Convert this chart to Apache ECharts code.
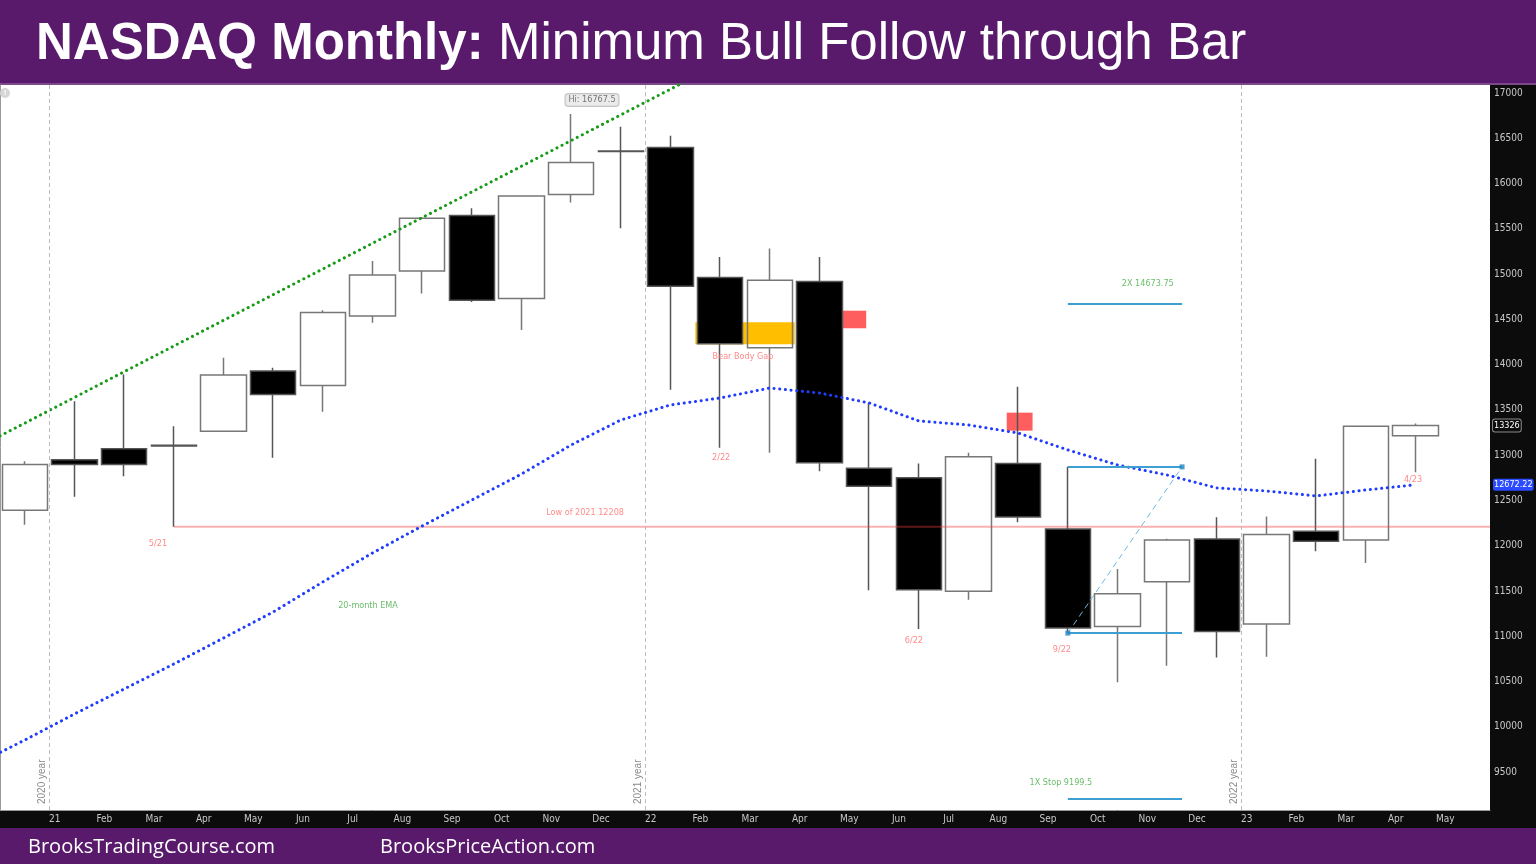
<!DOCTYPE html>
<html>
<head>
<meta charset="utf-8">
<title>NASDAQ Monthly</title>
<script src="https://cdn.jsdelivr.net/npm/echarts@6/dist/echarts.min.js"></script>
<style>
  html, body { margin: 0; padding: 0; background: #591a6c; }
  #chart { width: 1536px; height: 864px; }
</style>
</head>
<body>
<div id="chart"></div>
<script>
  // monthly bars Dec 2020 .. May 2023 (May not printed yet)
  const months = ['2020-12', '2021-01', '2021-02', '2021-03', '2021-04', '2021-05', '2021-06', '2021-07',
    '2021-08', '2021-09', '2021-10', '2021-11', '2021-12', '2022-01', '2022-02', '2022-03', '2022-04',
    '2022-05', '2022-06', '2022-07', '2022-08', '2022-09', '2022-10', '2022-11', '2022-12', '2023-01',
    '2023-02', '2023-03', '2023-04', '2023-05']
  const monthLabels = ['Dec', '21', 'Feb', 'Mar', 'Apr', 'May', 'Jun', 'Jul', 'Aug', 'Sep', 'Oct', 'Nov', 'Dec',
    '22', 'Feb', 'Mar', 'Apr', 'May', 'Jun', 'Jul', 'Aug', 'Sep', 'Oct', 'Nov', 'Dec',
    '23', 'Feb', 'Mar', 'Apr', 'May']

  const opens = [12390, 12948, 13069, 13110, 13264, 13928, 13770, 14536, 15034, 15646, 14729, 15879, 16360,
    16398, 14961, 14187, 14917, 12855, 12749, 11495, 12907, 12185, 11107, 11602, 12074, 11134, 12158, 12063, 13215, null]
  const highs = [12932, 13596, 13891, 13320, 14076, 13965, 14599, 15144, 15630, 15727, 15870, 16767.5, 16626,
    16527, 15189, 15281, 15189, 13578, 12907, 13025, 13755, 12870, 11742, 12077, 12313, 12321, 12959, 13327, 13350, null]
  const lows = [12232, 12539, 12766, 12208, 13257, 12970, 13479, 14463, 14784, 14691, 14381, 15790, 15506,
    13722, 13081, 13025, 12822, 11506, 11079, 11403, 12258, 11034, 10492, 10673, 10765, 10772, 11937, 11809, 12810, null]
  const closes = [12896, 12896, 12896, 13100, 13884, 13670, 14574, 14989, 15617, 14710, 15863, 16233, 16354,
    14864, 14231, 14931, 12915, 12656, 11513, 12981, 12317, 11090, 11469, 12063, 11052, 12122, 12048, 13319, 13326, null]

  // 20-month EMA, first value is Nov 2020 (off the left edge)
  const ema20 = [9577, 9853, 10141, 10417, 10693, 10980, 11267, 11599, 11919, 12217, 12504, 12791, 13112, 13388,
    13554, 13631, 13741, 13686, 13576, 13377, 13333, 13244, 13057, 12891, 12780, 12637, 12604, 12549, 12615, 12672.22]

  const lastClose = 13326
  const low2021 = 12208
  // trend line across the 2020-2021 highs, [month position, price]
  const trendLine = [[0, 13212], [14, 17184]]

  // measured move from the 9/22 bar
  const mmFrom = 21.5
  const mmTo = 23.8
  const mmHigh = 12870
  const mmLow = 11034
  const target2x = 14673.75
  const stop1x = 9199.5

  // shaded boxes: [from, to, low, high]
  const gapBox = [14, 16, 14224, 14467]
  const redBoxes = [[16.97, 17.44, 14401, 14595], [20.27, 20.79, 13270, 13469]]

  const yearLines = [[1, '2020 year'], [13, '2021 year'], [25, '2022 year']]

  // text notes: [text, month position, price, kind]
  const notes = [
    ['Hi: 16767.5', 11.92, 16923, 'tag'],
    ['Bear Body Gap', 14.96, 14084, 'red'],
    ['2/22', 14.52, 12968, 'red'],
    ['5/21', 3.18, 12018, 'red'],
    ['Low of 2021 12208', 11.78, 12361, 'red'],
    ['20-month EMA', 7.41, 11333, 'green'],
    ['6/22', 18.4, 10947, 'red'],
    ['9/22', 21.38, 10847, 'red'],
    ['2X 14673.75', 23.11, 14890, 'green'],
    ['1X Stop 9199.5', 21.36, 9378, 'green'],
    ['4/23', 28.45, 12725, 'red']
  ]

  const NARROW = '"Liberation Sans Narrow", "DejaVu Sans Condensed", sans-serif'
  const RED = '#ff6b6b'
  const GREEN = '#45ad45'
  const MM_BLUE = '#3e9fd3'

  const candles = months.map((m, i) => opens[i] == null ? '-' : [opens[i], closes[i], lows[i], highs[i]])

  function noteItem(n) {
    let label = { color: n[3] === 'green' ? GREEN : RED }
    if (n[3] === 'tag') {
      label = {
        color: '#555', backgroundColor: '#e6e6e6', borderColor: '#b5b5b5', borderWidth: 1,
        borderRadius: 3, padding: [2, 3, 1, 3]
      }
    }
    return { name: n[0], value: [n[1], n[2]], label: label }
  }

  const chart = echarts.init(document.getElementById('chart'))

  chart.setOption({
    backgroundColor: '#591a6c',
    animation: false,
    graphic: [
      { type: 'rect', z: -10, shape: { x: 0, y: 84, width: 1536, height: 744 }, style: { fill: '#0c0c0c' } },
      { type: 'rect', z: -9, shape: { x: 0, y: 85, width: 1490, height: 725 }, style: { fill: '#ffffff' } },
      { type: 'rect', z: -10, shape: { x: 0, y: 83, width: 1536, height: 2 }, style: { fill: '#7a4a8a' } },
      { type: 'circle', z: 5, shape: { cx: 5, cy: 93, r: 5 }, style: { fill: '#d6d6d6' } },
      { type: 'text', z: 6, x: 5, y: 93, style: { text: '!', fill: '#fff', font: 'bold 8px sans-serif', align: 'center', verticalAlign: 'middle' } },
      {
        type: 'text', x: 36, y: 45,
        style: { text: 'NASDAQ Monthly:', fill: '#fff', font: 'bold 51px "Liberation Sans", Arial, sans-serif', verticalAlign: 'middle' }
      },
      {
        type: 'text', x: 498, y: 45,
        style: { text: 'Minimum Bull Follow through Bar', fill: '#fff', font: '51px "Liberation Sans", Arial, sans-serif', verticalAlign: 'middle' }
      },
      {
        type: 'text', x: 28, y: 847,
        style: { text: 'BrooksTradingCourse.com', fill: '#fff', font: '20px "Open Sans", sans-serif', verticalAlign: 'middle' }
      },
      {
        type: 'text', x: 380, y: 847,
        style: { text: 'BrooksPriceAction.com', fill: '#fff', font: '20px "Open Sans", sans-serif', verticalAlign: 'middle' }
      }
    ],
    grid: { left: 0, right: 46, top: 85, bottom: 54, outerBoundsMode: 'none' },
    xAxis: [
      {
        type: 'category', data: months, boundaryGap: true, show: false
      },
      {
        type: 'value', min: 0, max: 30, interval: 1, position: 'bottom',
        axisLine: { show: true, lineStyle: { color: '#9a9a9a', width: 1 } },
        axisTick: { show: false },
        splitLine: { show: false },
        axisLabel: {
          color: '#c8c8c8', fontSize: 10, fontFamily: NARROW, margin: 4,
          showMinLabel: false, showMaxLabel: false, padding: [0, 0, 0, 10],
          formatter: v => monthLabels[v] || ''
        }
      }
    ],
    yAxis: {
      type: 'value', position: 'right', min: 9080, max: 17088, splitNumber: 16, scale: true,
      axisLine: { show: true, lineStyle: { color: '#9a9a9a', width: 1 } },
      axisTick: { show: false },
      splitLine: { show: false },
      axisLabel: {
        color: '#c8c8c8', fontSize: 10, fontFamily: NARROW, margin: 4,
        showMinLabel: false, showMaxLabel: false,
        formatter: v => String(v)
      }
    },
    series: [
      {
        name: 'shading', type: 'line', xAxisIndex: 1, data: [], z: 1,
        markArea: {
          silent: true,
          data: [
            [{ coord: [gapBox[0], gapBox[2]], itemStyle: { color: '#ffbf00' } }, { coord: [gapBox[1], gapBox[3]] }]
          ].concat(redBoxes.map(b => [
            { coord: [b[0], b[2]], itemStyle: { color: '#ff5e5e' } }, { coord: [b[1], b[3]] }
          ]))
        },
        markLine: {
          silent: true, symbol: ['none', 'none'],
          lineStyle: { color: '#bdbdbd', type: [4, 3], width: 1 },
          label: { position: 'insideStartTop', color: '#8a8a8a', fontSize: 10, fontFamily: 'sans-serif', distance: [6, 2] },
          data: yearLines.map(l => ({ xAxis: l[0], label: { formatter: l[1] } }))
        }
      },
      {
        name: 'NQ', type: 'candlestick', xAxisIndex: 0, data: candles, barWidth: 46, z: 2,
        itemStyle: {
          color: 'rgba(255,255,255,0)', color0: '#000000',
          borderColor: '#777777', borderColor0: '#555555', borderWidth: 1.5
        },
        markLine: {
          silent: true, symbol: ['none', 'none'],
          lineStyle: { color: 'rgba(0,0,0,0)', width: 1 },
          label: {
            show: true, position: 'end', distance: 3, formatter: String(lastClose), color: '#ffffff',
            backgroundColor: '#0c0c0c', borderColor: '#8a8a8a', borderWidth: 1, borderRadius: 2,
            padding: [2, 1, 1, 1], fontSize: 9, fontFamily: NARROW
          },
          data: [{ yAxis: lastClose }]
        }
      },
      {
        name: 'low 2021', type: 'line', xAxisIndex: 1, symbol: 'none', z: 3,
        lineStyle: { color: 'rgba(240,60,60,0.4)', width: 2 },
        data: [[3.5, low2021], [30, low2021]]
      },
      {
        name: 'trend', type: 'line', xAxisIndex: 1, symbol: 'none', z: 4,
        lineStyle: { color: '#179a17', width: 3, type: [0.1, 5.6], cap: 'round' },
        data: trendLine
      },
      {
        name: '20-month EMA', type: 'line', xAxisIndex: 1, symbol: 'none', z: 5,
        lineStyle: { color: '#1f3cff', width: 3, type: [0.1, 5.6], cap: 'round' },
        data: ema20.map((v, i) => [i - 0.5, v]),
        markLine: {
          silent: true, symbol: ['none', 'none'],
          lineStyle: { color: 'rgba(0,0,0,0)', width: 1 },
          label: {
            show: true, position: 'end', distance: 3, formatter: '12672.22', color: '#ffffff',
            backgroundColor: '#2a4bff', borderRadius: 2,
            padding: [2, 1, 1, 1], fontSize: 9, fontFamily: NARROW
          },
          data: [{ yAxis: ema20[ema20.length - 1] }]
        }
      },
      {
        name: 'measured move', type: 'lines', coordinateSystem: 'cartesian2d', xAxisIndex: 1, z: 6,
        lineStyle: { color: MM_BLUE, width: 2, opacity: 1 },
        data: [
          { coords: [[mmFrom, mmHigh], [mmTo, mmHigh]] },
          { coords: [[mmFrom, mmLow], [mmTo, mmLow]] },
          { coords: [[mmFrom, target2x], [mmTo, target2x]] },
          { coords: [[mmFrom, stop1x], [mmTo, stop1x]] },
          { coords: [[mmFrom, mmLow], [mmTo, mmHigh]], lineStyle: { color: '#6fb8e0', width: 1, type: [6, 4] } }
        ]
      },
      {
        name: 'mm ends', type: 'scatter', xAxisIndex: 1, symbol: 'rect', symbolSize: 5, z: 7,
        itemStyle: { color: '#1f86c4' },
        data: [[mmFrom, mmLow], [mmTo, mmHigh]]
      },
      {
        name: 'notes', type: 'scatter', xAxisIndex: 1, symbolSize: 1, z: 8,
        itemStyle: { color: 'rgba(0,0,0,0)' },
        label: {
          show: true, position: 'inside', fontSize: 9, fontFamily: NARROW,
          formatter: p => p.name
        },
        data: notes.map(noteItem)
      }
    ]
  })
</script>
</body>
</html>
